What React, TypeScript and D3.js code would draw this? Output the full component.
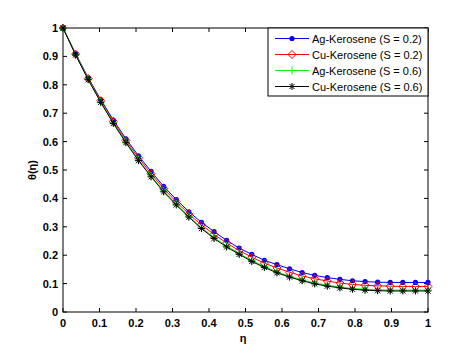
import React, { useEffect, useRef } from 'react'
import * as d3 from 'd3'

// eta mesh: 30 points, 0..1
const eta = d3.range(30).map(i => i / 29)

const agS02 = [1.0, 0.910, 0.825, 0.748, 0.676, 0.610, 0.550, 0.495, 0.442, 0.396, 0.353, 0.316, 0.283, 0.252, 0.225, 0.203, 0.182, 0.167, 0.152, 0.139, 0.129, 0.121, 0.115, 0.110, 0.107, 0.105, 0.104, 0.104, 0.104, 0.104]
const cuS02 = [1.0, 0.908, 0.822, 0.744, 0.671, 0.604, 0.543, 0.487, 0.434, 0.388, 0.345, 0.307, 0.273, 0.243, 0.216, 0.193, 0.172, 0.155, 0.140, 0.127, 0.117, 0.109, 0.102, 0.097, 0.094, 0.092, 0.091, 0.090, 0.090, 0.090]
const agS06 = [1.0, 0.906, 0.820, 0.740, 0.666, 0.599, 0.536, 0.479, 0.426, 0.380, 0.337, 0.297, 0.262, 0.232, 0.206, 0.181, 0.160, 0.141, 0.126, 0.113, 0.102, 0.094, 0.088, 0.083, 0.080, 0.078, 0.077, 0.077, 0.077, 0.077]
const cuS06 = [1.0, 0.905, 0.818, 0.738, 0.664, 0.596, 0.533, 0.476, 0.423, 0.377, 0.334, 0.294, 0.259, 0.229, 0.203, 0.178, 0.157, 0.138, 0.123, 0.110, 0.099, 0.091, 0.085, 0.080, 0.077, 0.075, 0.074, 0.074, 0.074, 0.074]

const seriesNames = ['Ag-Kerosene (S = 0.2)', 'Cu-Kerosene (S = 0.2)', 'Ag-Kerosene (S = 0.6)', 'Cu-Kerosene (S = 0.6)']
const seriesColors = ['#0000ff', '#ff0000', '#00ff00', '#000000']
const seriesMarkers = ['dot', 'diamond', 'plus', 'star']

const xTicks = d3.range(0, 11).map(i => i / 10)
const yTicks = d3.range(0, 11).map(i => i / 10)

const App = () => {
  const ref = useRef<SVGSVGElement>(null)

  useEffect(() => {
    const svg = d3.select(ref.current)
    svg.selectAll('*').remove()

    const left = 63, right = 428, top = 28, bottom = 312
    const x = d3.scaleLinear().domain([0, 1]).range([left, right])
    const y = d3.scaleLinear().domain([0, 1]).range([bottom, top])

    svg.append('rect').attr('width', 474).attr('height', 353).attr('fill', '#fff')

    const font = 'Arial, "Liberation Sans", sans-serif'

    // axes box with inward ticks
    const ax = svg.append('g').attr('stroke', '#000').attr('stroke-width', 1)
    ax.append('rect').attr('x', left).attr('y', top).attr('width', right - left).attr('height', bottom - top)
      .attr('fill', 'none')
    xTicks.forEach(t => {
      ax.append('line').attr('x1', x(t)).attr('x2', x(t)).attr('y1', bottom).attr('y2', bottom - 4)
      ax.append('line').attr('x1', x(t)).attr('x2', x(t)).attr('y1', top).attr('y2', top + 4)
    })
    yTicks.forEach(t => {
      ax.append('line').attr('x1', left).attr('x2', left + 4).attr('y1', y(t)).attr('y2', y(t))
      ax.append('line').attr('x1', right).attr('x2', right - 4).attr('y1', y(t)).attr('y2', y(t))
    })

    svg.append('g').selectAll('text').data(xTicks).join('text')
      .attr('x', d => x(d)).attr('y', bottom + 15)
      .attr('text-anchor', 'middle')
      .attr('font-family', font).attr('font-size', 11).attr('font-weight', 'bold')
      .text(d => d3.format('~g')(d))

    svg.append('g').selectAll('text').data(yTicks).join('text')
      .attr('x', left - 5).attr('y', d => y(d) + 4)
      .attr('text-anchor', 'end')
      .attr('font-family', font).attr('font-size', 11).attr('font-weight', 'bold')
      .text(d => d3.format('~g')(d))

    svg.append('text').attr('x', 243).attr('y', 342).attr('text-anchor', 'middle')
      .attr('font-family', font).attr('font-size', 11).attr('font-weight', 'bold').text('η')
    svg.append('text').attr('transform', `translate(36,${(top + bottom) / 2}) rotate(-90)`)
      .attr('text-anchor', 'middle')
      .attr('font-family', font).attr('font-size', 11).attr('font-weight', 'bold').text('θ(η)')

    const drawMarker = (g: any, kind: string, cx: number, cy: number, color: string) => {
      if (kind === 'dot') {
        g.append('circle').attr('cx', cx).attr('cy', cy).attr('r', 2.6).attr('fill', color)
      } else if (kind === 'diamond') {
        const s = 4
        g.append('path').attr('d', `M${cx},${cy - s}L${cx + s},${cy}L${cx},${cy + s}L${cx - s},${cy}Z`)
          .attr('fill', 'none').attr('stroke', color).attr('stroke-width', 1)
      } else if (kind === 'plus') {
        const s = 4
        g.append('path').attr('d', `M${cx - s},${cy}H${cx + s}M${cx},${cy - s}V${cy + s}`)
          .attr('stroke', color).attr('stroke-width', 1)
      } else {
        const s = 3.5, d2 = 2.6
        g.append('path').attr('d', `M${cx - s},${cy}H${cx + s}M${cx},${cy - s}V${cy + s}M${cx - d2},${cy - d2}L${cx + d2},${cy + d2}M${cx - d2},${cy + d2}L${cx + d2},${cy - d2}`)
          .attr('stroke', color).attr('stroke-width', 1)
      }
    }

    const allSeries = [agS02, cuS02, agS06, cuS06]
    const line = d3.line<number>().x((_, i) => x(eta[i])).y(d => y(d))

    const plot = svg.append('g')
    allSeries.forEach((vals, k) => {
      plot.append('path').datum(vals).attr('d', line)
        .attr('fill', 'none').attr('stroke', seriesColors[k]).attr('stroke-width', 1)
      vals.forEach((v, i) => drawMarker(plot, seriesMarkers[k], x(eta[i]), y(v), seriesColors[k]))
    })

    // legend
    const lg = svg.append('g')
    lg.append('rect').attr('x', 268).attr('y', top).attr('width', right - 268).attr('height', 68)
      .attr('fill', '#fff').attr('stroke', '#000').attr('stroke-width', 1)
    seriesNames.forEach((name, k) => {
      const ly = 38.5 + k * 16
      lg.append('line').attr('x1', 275).attr('x2', 309).attr('y1', ly).attr('y2', ly)
        .attr('stroke', seriesColors[k]).attr('stroke-width', 1)
      drawMarker(lg, seriesMarkers[k], 292, ly, seriesColors[k])
      lg.append('text').attr('x', 312).attr('y', ly + 4)
        .attr('font-family', font).attr('font-size', 11).text(name)
    })
  }, [])

  return <svg ref={ref} width={474} height={353} style={{ display: 'block', position: 'absolute', left: 0, top: 0 }} />
}

export default App
